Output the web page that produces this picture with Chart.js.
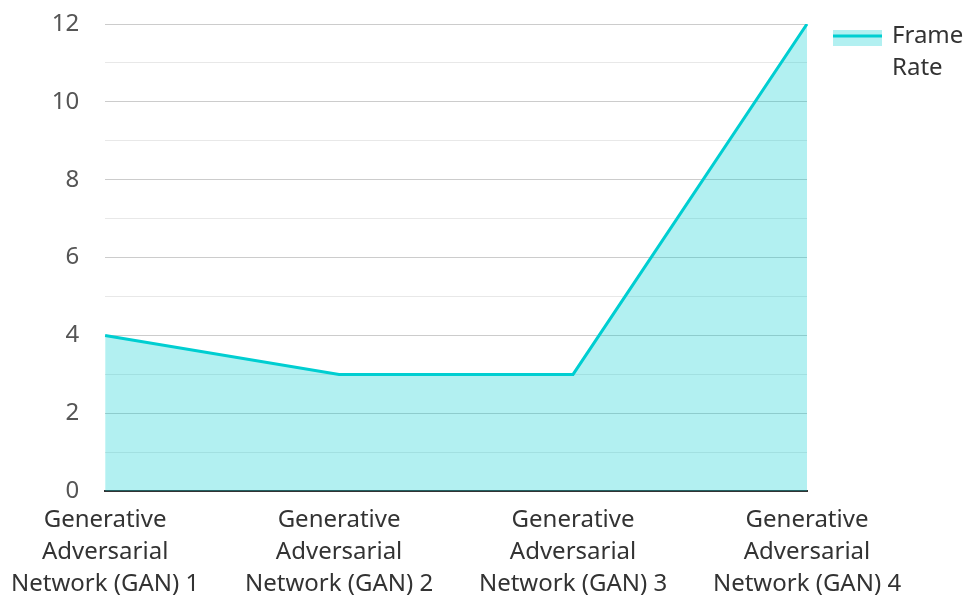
<!DOCTYPE html>
<html>
<head>
<meta charset="utf-8">
<script src="https://cdn.jsdelivr.net/npm/chart.js@4.4.0/dist/chart.umd.min.js"></script>
<style>
  html, body { margin: 0; padding: 0; background: #fff; }
  #wrap { width: 967px; height: 597px; position: relative; }
</style>
</head>
<body>
<div id="wrap"><canvas id="myChart"></canvas></div>
<script>
// veriler
const categories = [
    ['Generative', 'Adversarial', 'Network (GAN) 1'],
    ['Generative', 'Adversarial', 'Network (GAN) 2'],
    ['Generative', 'Adversarial', 'Network (GAN) 3'],
    ['Generative', 'Adversarial', 'Network (GAN) 4']
];
const frameRate = [4, 3, 3, 12];
const seriesName = ['Frame', 'Rate'];
const yTicks = [0, 2, 4, 6, 8, 10, 12];

const lineColor = 'rgb(0, 206, 209)';
const fillColor = 'rgba(0, 206, 209, 0.3)';
const fontFamily = "'Noto Sans', 'Open Sans', sans-serif";

// legend kendimiz ciziyoruz (iki satir label icin)
const sideLegend = {
    id: 'sideLegend',
    afterDraw(chart) {
        const ctx = chart.ctx;
        const x = chart.chartArea.right + 26;
        const y = 30;
        ctx.save();
        ctx.fillStyle = fillColor;
        ctx.fillRect(x, y, 49, 16);
        ctx.strokeStyle = lineColor;
        ctx.lineWidth = 3;
        ctx.beginPath();
        ctx.moveTo(x, y + 6);
        ctx.lineTo(x + 49, y + 6);
        ctx.stroke();
        ctx.fillStyle = '#333';
        ctx.font = '24px ' + fontFamily;
        ctx.textBaseline = 'middle';
        seriesName.forEach((t, i) => ctx.fillText(t, x + 59, y + 6 + i * 32));
        ctx.restore();
    }
};

const ctx = document.getElementById('myChart');
new Chart(ctx, {
    type: 'line',
    data: {
        labels: categories,
        datasets: [{
            label: seriesName.join(' '),
            data: frameRate,
            borderColor: lineColor,
            backgroundColor: fillColor,
            borderWidth: 3,
            fill: 'origin',
            tension: 0,
            pointRadius: 0
        }]
    },
    options: {
        responsive: true,
        maintainAspectRatio: false,
        animation: false,
        layout: { padding: { top: 24, right: 160, left: 0, bottom: -16 } },
        plugins: {
            legend: { display: false },
            tooltip: { enabled: false }
        },
        scales: {
            x: {
                offset: false,
                afterFit: s => { s.paddingLeft = Math.max(s.paddingLeft - 2, 0); },
                grid: { display: false, drawTicks: false },
                border: { display: true, color: '#333', width: 2 },
                ticks: {
                    color: '#333',
                    font: { family: fontFamily, size: 24, lineHeight: 1.33 },
                    maxRotation: 0,
                    autoSkip: false,
                    padding: 13
                }
            },
            y: {
                min: 0,
                max: 12,
                afterFit: s => { s.paddingTop = 0; },
                grid: {
                    drawTicks: false,
                    color: c => (c.tick.value % 2 === 0 ? '#cccccc' : '#e8e8e8'),
                    lineWidth: 1
                },
                border: { display: false },
                ticks: {
                    stepSize: 1,
                    color: '#555',
                    padding: 26,
                    font: { family: fontFamily, size: 24 },
                    callback: v => (yTicks.includes(v) ? v : '')
                }
            }
        }
    },
    plugins: [sideLegend]
});
</script>
</body>
</html>
